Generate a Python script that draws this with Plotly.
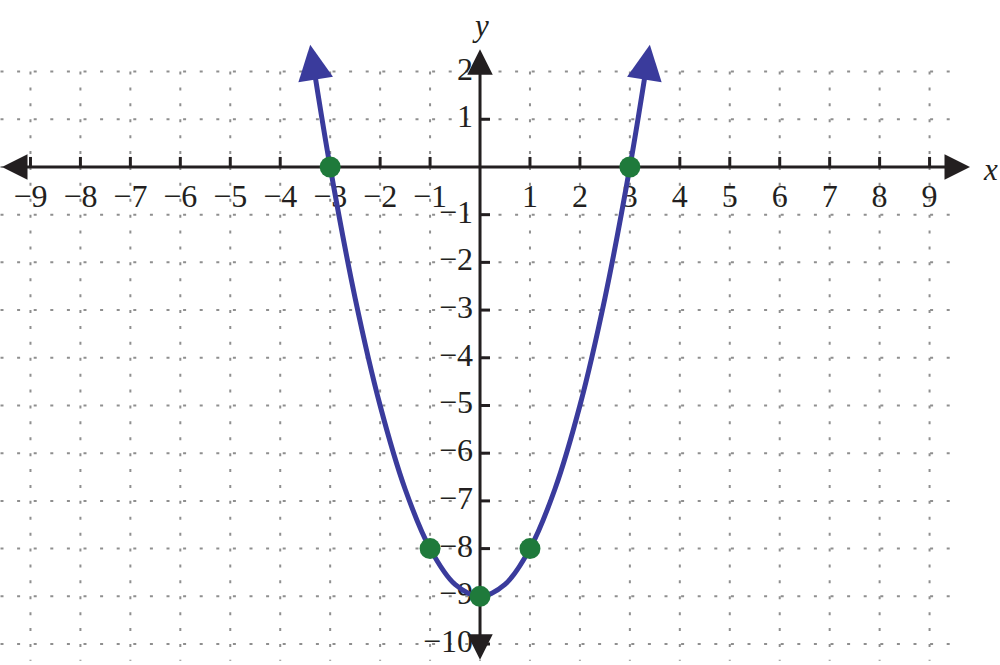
import plotly.graph_objects as go

# curve (y = x^2 - 9)
curve_x = [-3.3, -3, -2.5, -2, -1.5, -1, -0.5, 0, 0.5, 1, 1.5, 2, 2.5, 3, 3.3]
curve_y = [1.9, 0, -2.75, -5, -6.75, -8, -8.75, -9, -8.75, -8, -6.75, -5, -2.75, 0, 1.9]

# plotted points
pts_x = [-3, -1, 0, 1, 3]
pts_y = [0, -8, -9, -8, 0]

# axis ticks / labels
xticks = [-9, -8, -7, -6, -5, -4, -3, -2, -1, 1, 2, 3, 4, 5, 6, 7, 8, 9]
yticks = [-10, -9, -8, -7, -6, -5, -4, -3, -2, -1, 1, 2]
grid_x = list(range(-9, 10))
grid_y = list(range(-10, 3))

BLUE = "#3a3b9c"
GREEN = "#1f7a3b"
GRID = "#8f8f8f"
INK = "#231f20"
FONT = "Liberation Serif"


def minus(v):
    return str(v).replace("-", "\u2212")


fig = go.Figure()

# dotted grid
gx, gy = [], []
for v in grid_x:
    gx += [v, v, None]
    gy += [2, -10.35, None]
fig.add_trace(go.Scatter(x=gx, y=gy, mode="lines", hoverinfo="skip",
                         line=dict(color=GRID, width=2, dash="3px,12.9px")))
hx, hy = [], []
for v in grid_y:
    hx += [-9.6, 9.5, None]
    hy += [v, v, None]
fig.add_trace(go.Scatter(x=hx, y=hy, mode="lines", hoverinfo="skip",
                         line=dict(color=GRID, width=2, dash="3px,13.6px")))

# axes lines
fig.add_trace(go.Scatter(x=[-9.3, 9.5], y=[0, 0], mode="lines", hoverinfo="skip",
                         line=dict(color=INK, width=3)))
fig.add_trace(go.Scatter(x=[0, 0], y=[2.15, -10.0], mode="lines", hoverinfo="skip",
                         line=dict(color=INK, width=3)))

# tick marks
tx, ty = [], []
for v in xticks:
    tx += [v, v, None]
    ty += [0, 0.21, None]
fig.add_trace(go.Scatter(x=tx, y=ty, mode="lines", hoverinfo="skip",
                         line=dict(color=INK, width=3)))
sx, sy = [], []
for v in yticks:
    sx += [0, 0.2, None]
    sy += [v, v, None]
fig.add_trace(go.Scatter(x=sx, y=sy, mode="lines", hoverinfo="skip",
                         line=dict(color=INK, width=3)))

# tick labels
fig.add_trace(go.Scatter(x=xticks, y=[-0.68] * len(xticks), mode="text",
                         text=[minus(v) for v in xticks], textposition="middle center",
                         textfont=dict(family=FONT, size=32, color=INK),
                         hoverinfo="skip"))
fig.add_trace(go.Scatter(x=[-0.14] * len(yticks), y=yticks, mode="text",
                         text=[minus(v) for v in yticks], textposition="middle left",
                         textfont=dict(family=FONT, size=32, color=INK),
                         hoverinfo="skip"))

# parabola
fig.add_trace(go.Scatter(x=curve_x, y=curve_y, mode="lines", line_shape="spline",
                         line=dict(color=BLUE, width=5), hoverinfo="skip"))

# points
fig.add_trace(go.Scatter(x=pts_x, y=pts_y, mode="markers",
                         marker=dict(color=GREEN, size=21, line=dict(width=0))))

# arrowheads
arrows = [
    # (tip x, tip y, tail x, tail y, color, width, size)
    (-9.57, 0, -9.2, 0, INK, 3, 1.7),
    (9.81, 0, 9.4, 0, INK, 3, 1.7),
    (0, 2.47, 0, 2.0, INK, 3, 1.7),
    (0, -10.33, 0, -9.9, INK, 3, 1.7),
    (-3.4, 2.56, -3.3, 1.9, BLUE, 5, 1.4),
    (3.4, 2.56, 3.3, 1.9, BLUE, 5, 1.4),
]
for x1, y1, x0, y0, c, w, s in arrows:
    fig.add_annotation(x=x1, y=y1, ax=x0, ay=y0, xref="x", yref="y",
                       axref="x", ayref="y", text="", showarrow=True,
                       arrowhead=2, arrowsize=s, arrowwidth=w, arrowcolor=c,
                       standoff=0, startstandoff=0)

# axis names
fig.add_annotation(x=10.22, y=-0.05, text="<i>x</i>", showarrow=False,
                   font=dict(family=FONT, size=31, color=INK))
fig.add_annotation(x=0, y=2.96, text="<i>y</i>", showarrow=False,
                   font=dict(family=FONT, size=31, color=INK))

fig.update_layout(
    width=1000, height=665,
    margin=dict(l=0, r=0, t=0, b=0),
    plot_bgcolor="white", paper_bgcolor="white",
    showlegend=False,
    xaxis=dict(range=[-9.61, 10.41], visible=False, fixedrange=True),
    yaxis=dict(range=[-10.44, 3.5], visible=False, fixedrange=True),
)

# drop the default 8px body margin so the figure fills the window
fig.write_html("out.html", config={"displayModeBar": False},
               post_script="document.body.style.margin='0';")
